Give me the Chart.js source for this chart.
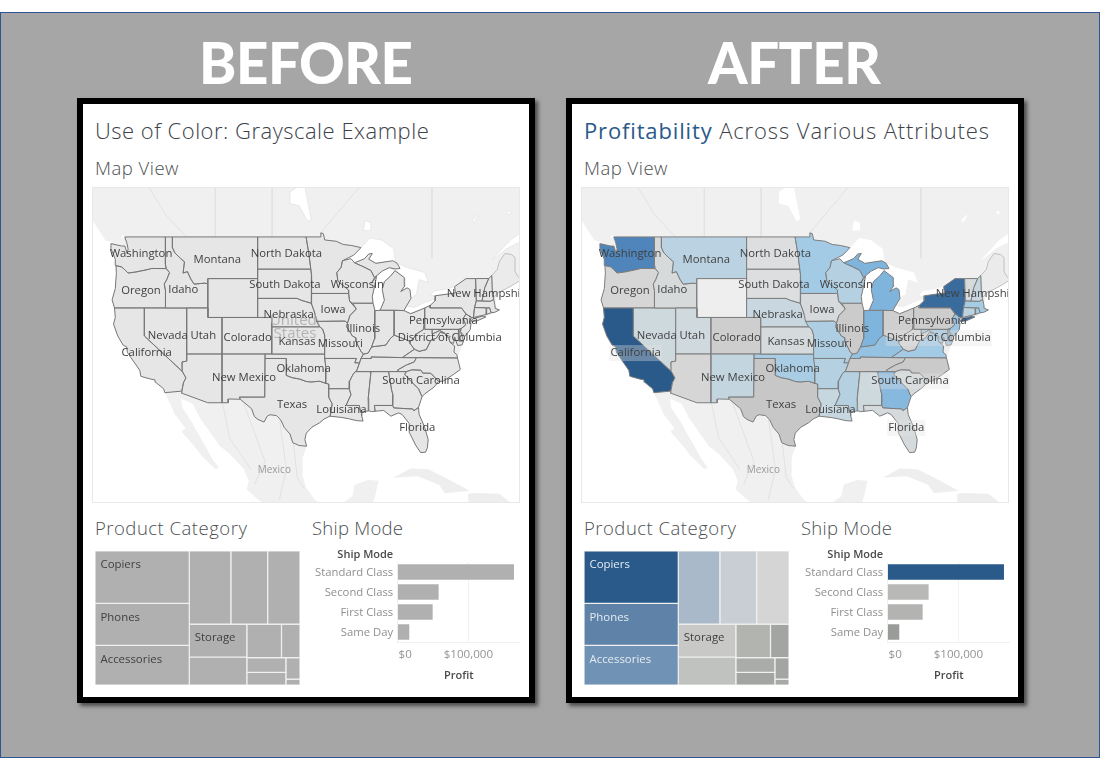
<!DOCTYPE html>
<html>
<head>
<meta charset="utf-8">
<script src="https://cdn.jsdelivr.net/npm/chart.js@4"></script>
<style>
  html, body { margin: 0; padding: 0; background: #fff; }
  body { width: 1101px; height: 759px; position: relative; overflow: hidden; font-family: "Open Sans", sans-serif; }
  #backdrop { position: absolute; left: 0; top: 12px; width: 1098px; height: 744px; background: #a6a6a6; border: 1.5px solid #2f5597; }
  .headline { position: absolute; top: 24px; color: #fff; font: 900 56.4px Lato, sans-serif; line-height: 76px; letter-spacing: -.45px; }
  .frame { position: absolute; top: 98px; width: 446px; height: 593px; background: #fff; border: 6px solid #000; box-shadow: 3px 3px 4px rgba(0,0,0,.55); }
  .txt { position: absolute; white-space: nowrap; color: #555; }
  .title { top: 115px; font-size: 22px; line-height: 30px; color: #3c4248; font-weight: 300; }
  .sub { font-size: 18.5px; line-height: 24px; color: #4c4f52; letter-spacing: .5px; font-weight: 300; }
  canvas { position: absolute; }
</style>
</head>
<body>
<div id="backdrop"></div>
<div class="headline" style="left:199px">BEFORE</div>
<div class="headline" style="left:708px">AFTER</div>
<div class="frame" style="left:77px"></div>
<div class="frame" style="left:566px"></div>
<script>
// ---- ship mode bars
const shipModes = ['Standard Class', 'Second Class', 'First Class', 'Same Day'];
const shipProfit = [164000, 57400, 49000, 15900];
const shipTicks = [0, 100000];
const shipColorsAfter = ['#2a5a8a', '#b8b9b7', '#b3b4b2', '#9a9c9a'];

// ---- treemap: sub-category profit, nesting
const subCategories = ['Copiers', 'Phones', 'Accessories', 'Paper', 'Binders', 'Chairs', 'Storage', 'Appliances', 'Furnishings', 'Envelopes', 'Art', 'Labels', 'Machines', 'Fasteners'];
const subProfit = [55600, 44500, 41900, 34100, 30200, 26600, 21300, 18100, 13100, 7000, 6500, 5500, 3400, 950];
const subColorsAfter = ['#2a5a8a', '#5f82a8', '#7092b4', '#a9b9c9', '#c8ced3', '#d5d5d5', '#c8c8c6', '#c0c2bf', '#b2b4b0', '#a2a5a1', '#a9aca8', '#a2a5a1', '#a2a5a1', '#a6a9a5'];
const subLabelled = ['Copiers', 'Phones', 'Accessories', 'Storage'];
const treeLayout = ['h', ['v', 0, 1, 2], ['v', ['h', 3, 4, 5], ['h', ['v', 6, 7], ['v', ['h', 8, 9], ['h', ['v', 10, 11], ['v', 12, 13]]]]]];

// ---- state outlines, [lon, lat]
const WA = [[-122.76,49],[-117.03,49],[-117.04,46.42],[-116.92,45.99],[-118.98,46],[-119.3,45.93],[-121.2,45.65],[-122.3,45.55],[-122.8,45.9],[-123.2,46.15],[-124,46.27],[-124.1,46.9],[-124.7,47.9],[-124.72,48.38],[-123.2,48.15],[-122.75,48.15],[-122.4,47.4],[-122.3,47.9],[-122.5,48.5]];
const OR = [[-124,46.27],[-123.2,46.15],[-122.8,45.9],[-122.3,45.55],[-121.2,45.65],[-119.3,45.93],[-118.98,46],[-116.92,45.99],[-116.46,45.6],[-116.85,44.9],[-117.2,44.45],[-117.03,43.8],[-117.03,42],[-124.21,42],[-124.55,42.85],[-124.1,44],[-123.95,45.5]];
const CA = [[-124.21,42],[-120,42],[-120,39],[-114.63,35],[-114.15,34.27],[-114.5,33.7],[-114.72,32.72],[-117.12,32.53],[-117.3,33],[-118.4,33.75],[-118.5,34.03],[-119.2,34.15],[-120.5,34.45],[-120.65,35.15],[-121.9,36.6],[-122.4,37.2],[-122.5,37.8],[-123,38],[-123.75,39],[-124.35,40.3],[-124.1,41]];
const NV = [[-120,42],[-114.04,42],[-114.04,36.2],[-114.7,36.1],[-114.63,35],[-120,39]];
const ID = [[-117.03,49],[-116.05,49],[-116.05,48],[-115.7,47.5],[-114.95,47],[-114.35,46.65],[-114.55,45.55],[-113.95,45.7],[-113.45,44.95],[-113,44.45],[-111.5,44.55],[-111.05,44.48],[-111.05,42],[-117.03,42],[-117.03,43.8],[-117.2,44.45],[-116.85,44.9],[-116.46,45.6],[-116.92,45.99],[-117.04,46.42]];
const MT = [[-116.05,49],[-104.05,49],[-104.05,45],[-111.05,45],[-111.05,44.48],[-111.5,44.55],[-113,44.45],[-113.45,44.95],[-113.95,45.7],[-114.55,45.55],[-114.35,46.65],[-114.95,47],[-115.7,47.5],[-116.05,48]];
const WY = [[-111.05,45],[-104.05,45],[-104.05,41],[-111.05,41]];
const UT = [[-114.04,42],[-111.05,42],[-111.05,41],[-109.05,41],[-109.05,37],[-114.04,37]];
const CO = [[-109.05,41],[-102.05,41],[-102.05,37],[-109.05,37]];
const AZ = [[-114.04,37],[-109.05,37],[-109.05,31.33],[-111.07,31.33],[-114.81,32.5],[-114.72,32.72],[-114.5,33.7],[-114.15,34.27],[-114.63,35],[-114.7,36.1],[-114.04,36.2]];
const NM = [[-109.05,37],[-103,37],[-103.05,32],[-106.62,32],[-106.5,31.75],[-108.2,31.78],[-108.2,31.33],[-109.05,31.33]];
const TX = [[-103,36.5],[-100,36.5],[-100,34.56],[-99.2,34.3],[-98.1,34.13],[-97.2,33.85],[-96.5,33.8],[-95.3,33.88],[-94.48,33.64],[-94.04,33.55],[-94.04,33],[-94.04,31.99],[-93.55,31.2],[-93.7,30.3],[-93.85,29.7],[-94.7,29.35],[-95.3,28.9],[-96.4,28.35],[-97.2,27.6],[-97.4,26.8],[-97.15,25.96],[-98.2,26.05],[-99.1,26.4],[-99.5,27.5],[-100.3,28.3],[-100.8,29.25],[-101.4,29.77],[-102.3,29.88],[-102.7,29.7],[-103.15,28.98],[-104,29.3],[-104.5,29.65],[-104.9,30.6],[-106.5,31.75],[-106.62,32],[-103.05,32]];
const OK = [[-103,37],[-94.62,37],[-94.43,35.4],[-94.48,33.64],[-95.3,33.88],[-96.5,33.8],[-97.2,33.85],[-98.1,34.13],[-99.2,34.3],[-100,34.56],[-100,36.5],[-103,36.5]];
const KS = [[-102.05,40],[-95.31,40],[-94.9,39.75],[-94.61,39.1],[-94.62,37],[-102.05,37]];
const NE = [[-104.05,43],[-98.5,43],[-97.9,42.8],[-96.5,42.5],[-96.1,41.7],[-95.9,41.2],[-95.31,40],[-102.05,40],[-102.05,41],[-104.05,41]];
const SD = [[-104.05,45.94],[-96.56,45.94],[-96.45,45.3],[-96.45,43.5],[-96.5,42.5],[-97.9,42.8],[-98.5,43],[-104.05,43]];
const ND = [[-104.05,49],[-97.23,49],[-96.85,47.5],[-96.56,45.94],[-104.05,45.94]];
const MN = [[-97.23,49],[-95.15,49],[-95.15,49.38],[-94.8,49.3],[-94.6,48.72],[-93,48.6],[-92,48.3],[-90.8,48.2],[-89.5,48],[-90.5,47.3],[-92.1,46.75],[-92.3,46.1],[-92.9,45.6],[-92.75,44.75],[-91.25,43.85],[-91.22,43.5],[-96.45,43.5],[-96.45,45.3],[-96.56,45.94],[-96.85,47.5]];
const IA = [[-96.45,43.5],[-91.22,43.5],[-91.1,42.7],[-90.15,41.9],[-91.05,41.2],[-91.4,40.38],[-91.73,40.61],[-95.77,40.58],[-95.9,41.2],[-96.1,41.7],[-96.5,42.5]];
const MO = [[-95.77,40.58],[-91.73,40.61],[-91.4,40.38],[-91.5,40],[-90.7,39],[-90.2,38.8],[-90.2,38.4],[-89.5,37.3],[-89.15,37],[-89.5,36.5],[-89.7,36],[-90.37,36],[-90.15,36.5],[-94.62,36.5],[-94.62,37],[-94.61,39.1],[-94.9,39.75],[-95.31,40]];
const AR = [[-94.62,36.5],[-90.15,36.5],[-90.37,36],[-89.7,36],[-90.1,35.1],[-90.6,34.7],[-91.1,33.9],[-91.15,33],[-94.04,33],[-94.04,33.55],[-94.48,33.64],[-94.43,35.4]];
const LA = [[-94.04,33],[-91.15,33],[-90.9,32.3],[-91.6,31],[-89.73,31],[-89.55,30.2],[-89.4,30.05],[-89.4,29.75],[-89.2,29.1],[-90.1,29.15],[-91.3,29.4],[-92.3,29.55],[-93.85,29.7],[-93.7,30.3],[-93.55,31.2],[-94.04,31.99]];
const MS = [[-91.15,33],[-91.1,33.9],[-90.6,34.7],[-90.3,35],[-88.2,35],[-88.1,34.9],[-88.47,31.9],[-88.4,30.35],[-89.55,30.2],[-89.73,31],[-91.6,31],[-90.9,32.3]];
const AL = [[-88.2,35],[-85.6,35],[-85.18,32.85],[-85,32.3],[-85.05,31],[-87.6,31],[-87.5,30.3],[-88,30.25],[-88.4,30.35],[-88.47,31.9],[-88.1,34.9]];
const TN = [[-89.7,36],[-89.5,36.5],[-88.05,36.5],[-88.05,36.68],[-83.68,36.6],[-81.68,36.59],[-82,36.1],[-83.1,35.75],[-84.3,35.2],[-84.32,35],[-85.6,35],[-88.2,35],[-90.3,35],[-90.1,35.1]];
const KY = [[-89.15,37],[-89.5,36.5],[-88.05,36.5],[-88.05,36.68],[-83.68,36.6],[-81.97,37.54],[-82.6,38.2],[-82.6,38.42],[-83.5,38.7],[-84.82,39.1],[-85.4,38.7],[-86,38],[-87,37.9],[-88,37.8],[-88.5,37.1]];
const IL = [[-90.65,42.5],[-87.8,42.5],[-87.53,41.72],[-87.53,39.35],[-87.6,38.7],[-88,37.8],[-88.5,37.1],[-89.15,37],[-89.5,37.3],[-90.2,38.4],[-90.2,38.8],[-90.7,39],[-91.5,40],[-91.4,40.38],[-91.05,41.2],[-90.15,41.9]];
const IN = [[-87.53,41.72],[-86.8,41.76],[-84.8,41.76],[-84.82,39.1],[-85.4,38.7],[-86,38],[-87,37.9],[-88,37.8],[-87.6,38.7],[-87.53,39.35]];
const OH = [[-84.8,41.76],[-83.45,41.73],[-82.5,41.4],[-81,41.85],[-80.52,42],[-80.52,40.64],[-80.7,39.7],[-81.7,39.2],[-82.2,38.6],[-82.6,38.42],[-83.5,38.7],[-84.82,39.1]];
const MI_LOWER = [[-86.8,41.76],[-84.8,41.76],[-83.45,41.73],[-83.1,42.2],[-82.45,43],[-82.6,43.9],[-83,44.07],[-83.9,43.7],[-83.3,44.3],[-83.4,45.1],[-84.7,45.78],[-85.4,45.2],[-86.2,44.7],[-86.5,43.9],[-86.2,42.8]];
const MI_UPPER = [[-90.4,46.55],[-89,46.95],[-88.4,47.4],[-87.9,47.45],[-88.4,46.9],[-87.4,46.5],[-86,46.65],[-85,46.75],[-84.4,46.5],[-84,46],[-84.7,45.95],[-85.5,46.08],[-86.5,45.75],[-87.6,45.1],[-88.1,45.8],[-89.1,46.15]];
const WI = [[-92.1,46.75],[-90.9,46.95],[-90.4,46.55],[-89.1,46.15],[-88.1,45.8],[-87.6,45.1],[-88,44.55],[-87.3,45.25],[-87.5,44.5],[-87.9,43.2],[-87.8,42.5],[-90.65,42.5],[-91.1,42.7],[-91.22,43.5],[-91.25,43.85],[-92.75,44.75],[-92.9,45.6],[-92.3,46.1]];
const NY = [[-79.76,42],[-75.35,42],[-74.7,41.36],[-73.92,41],[-73.65,41],[-73.5,42.05],[-73.25,42.75],[-73.35,45],[-74.7,45],[-76.3,44.2],[-76.2,43.55],[-79,43.27],[-79.05,42.75],[-79.76,42.27]];
const NY_LONG_ISLAND = [[-74.05,40.6],[-73.7,40.88],[-72.3,41.15],[-71.9,41.05],[-73.2,40.62]];
const PA = [[-80.52,42],[-79.76,42.27],[-79.76,42],[-75.35,42],[-74.7,41.36],[-75.1,40.9],[-74.75,40.2],[-75.4,39.8],[-75.79,39.72],[-80.52,39.72]];
const NJ = [[-74.7,41.36],[-73.92,41],[-74.25,40.5],[-74,40.4],[-74.1,39.7],[-74.9,38.95],[-75.5,39.5],[-75.4,39.8],[-74.75,40.2],[-75.1,40.9]];
const DE = [[-75.79,39.72],[-75.4,39.8],[-75.5,39.5],[-75.05,38.45],[-75.7,38.46]];
const MD = [[-79.48,39.72],[-75.79,39.72],[-75.7,38.46],[-75.05,38.45],[-75.25,38.03],[-75.9,37.95],[-76.3,38.9],[-76.45,38.2],[-76.95,38.3],[-77.1,38.7],[-77.7,39.3],[-78.4,39.6],[-79.48,39.2]];
const DC = [[-77.12,38.93],[-77.04,38.99],[-76.91,38.89],[-77.04,38.79]];
const VA = [[-83.68,36.6],[-81.68,36.59],[-75.9,36.55],[-76,36.95],[-76.4,37.2],[-76.3,37.9],[-76.95,38.3],[-77.1,38.7],[-77.7,39.3],[-78.35,39.4],[-78.9,38.75],[-79.65,38.55],[-80.3,37.5],[-81.3,37.3],[-81.97,37.54]];
const WV = [[-82.6,38.42],[-82.6,38.2],[-81.97,37.54],[-81.3,37.3],[-80.3,37.5],[-79.65,38.55],[-78.9,38.75],[-78.35,39.4],[-77.7,39.3],[-78.4,39.6],[-79.48,39.2],[-79.48,39.72],[-80.52,39.72],[-80.52,40.64],[-80.7,39.7],[-81.7,39.2],[-82.2,38.6]];
const NC = [[-84.32,35],[-84.3,35.2],[-83.1,35.75],[-82,36.1],[-81.68,36.59],[-75.9,36.55],[-75.5,35.25],[-76.5,34.65],[-77.9,33.9],[-78.55,33.86],[-79.67,34.8],[-80.8,34.82],[-81.05,35.15],[-82.3,35.2],[-83.1,35]];
const SC = [[-83.1,35],[-82.3,35.2],[-81.05,35.15],[-80.8,34.82],[-79.67,34.8],[-78.55,33.86],[-79.2,33.2],[-80.5,32.4],[-80.9,32.05],[-81.4,33],[-82.5,33.9],[-83.35,34.7]];
const GA = [[-85.6,35],[-84.32,35],[-83.1,35],[-83.35,34.7],[-82.5,33.9],[-81.4,33],[-80.9,32.05],[-81.4,30.75],[-82.05,30.36],[-82.2,30.57],[-84.86,30.7],[-85.05,31],[-85,32.3],[-85.18,32.85]];
const FL = [[-87.6,31],[-85.05,31],[-84.86,30.7],[-82.2,30.57],[-82.05,30.36],[-81.4,30.75],[-81.3,29.9],[-80.55,28.4],[-80.03,26.8],[-80.15,25.75],[-80.4,25.2],[-81.1,25.15],[-81.8,26.1],[-82.7,27.7],[-82.7,28.8],[-83.7,29.9],[-84.2,30.1],[-85.3,29.7],[-86.3,30.4],[-87.5,30.3]];
const CT = [[-73.5,42.05],[-71.8,42.02],[-71.85,41.32],[-73.65,41]];
const RI = [[-71.8,42.02],[-71.38,42.02],[-71.15,41.5],[-71.85,41.32]];
const MA = [[-73.5,42.05],[-73.25,42.75],[-71.3,42.7],[-70.8,42.88],[-70.65,42.4],[-70.6,41.95],[-70,41.8],[-70.65,41.55],[-71.15,41.5],[-71.38,42.02],[-71.8,42.02]];
const VT = [[-73.25,42.75],[-72.46,42.73],[-72.05,44.1],[-71.5,45.01],[-73.35,45]];
const NH = [[-72.46,42.73],[-71.3,42.7],[-70.8,42.88],[-70.98,43.4],[-71.08,45.3],[-71.5,45.01],[-72.05,44.1]];
// Maine has no mark in the reference, only the pale base map outline
const ME = [[-70.8,43.07],[-70.2,43.6],[-69,44],[-68,44.4],[-67,44.85],[-67.45,45.3],[-67.8,45.7],[-67.8,47.07],[-68.3,47.35],[-69.2,47.45],[-70,46.7],[-70.3,45.9],[-71.08,45.3],[-70.98,43.4]];

const stateRings = [[WA],[OR],[CA],[NV],[ID],[MT],[WY],[UT],[CO],[AZ],[NM],[TX],[OK],[KS],[NE],[SD],[ND],[MN],[IA],[MO],[AR],[LA],[MS],[AL],[TN],[KY],[IL],[IN],[OH],[MI_LOWER,MI_UPPER],[WI],[NY,NY_LONG_ISLAND],[PA],[NJ],[DE],[MD],[DC],[VA],[WV],[NC],[SC],[GA],[FL],[CT],[RI],[MA],[VT],[NH]];
// estimated from the fill shade of each state, same order as stateRings
const stateProfit = [33400,-1200,76400,1500,600,3500,0,1400,-14000,-1200,2600,-24000,8000,800,2000,400,400,10000,700,6500,4500,2200,4000,1500,-20000,13000,-18000,18000,-12000,18000,4500,58000,-15000,12000,12000,11000,1100,10000,-1000,-20000,800,16300,800,3500,7300,9000,800,2200];

const mapLabels = ['Washington','Montana','North Dakota','Oregon','Idaho','South Dakota','Wisconsin','New Hampshire','Nebraska','Iowa','Pennsylvania','Nevada','Utah','Colorado','Illinois','Kansas','Missouri','District of Columbia','California','Oklahoma','New Mexico','South Carolina','Texas','Louisiana','Florida'];
const mapLabelLon = [-120.48,-109.73,-100.01,-120.48,-114.52,-100.2,-90.01,-71.45,-99.68,-93.44,-77.9,-116.72,-111.7,-105.46,-89.17,-98.51,-92.41,-77,-119.68,-97.57,-105.97,-81.04,-99.21,-92.26,-81.56];
const mapLabelLat = [47.47,46.95,47.47,43.91,44.01,44.45,44.45,43.57,41.43,41.96,40.8,39.18,39.18,38.92,39.9,38.45,38.23,38.88,37.22,35.44,34.41,34,31.16,30.64,28.35];
const boxedLabels = ['District of Columbia','California','South Carolina','Florida'];

// ---- basemap
const northAmerica = [[-131,56],[-131,51.2],[-127.4,50.6],[-125.5,48.7],[-123.5,48.3],[-123.1,49.2],[-122.76,49],[-124.72,48.38],[-124.7,47.9],[-124.1,46.9],[-124,46.27],[-123.95,45.5],[-124.1,44],[-124.55,42.85],[-124.21,42],[-124.1,41],[-124.35,40.3],[-123.75,39],[-123,38],[-122.5,37.8],[-122.4,37.2],[-121.9,36.6],[-120.65,35.15],[-120.5,34.45],[-119.2,34.15],[-118.5,34.03],[-118.4,33.75],[-117.3,33],[-117.12,32.53],[-116,30.5],[-115.8,30],[-114.2,28.2],[-114.8,27.8],[-113,26],[-112,24.8],[-110,23],[-109.5,23.2],[-110.4,24.3],[-111.3,25.8],[-112.6,27.8],[-113.2,28.8],[-114.7,30.8],[-114.8,31.8],[-113.2,31.2],[-112.2,29.5],[-110.9,27.9],[-109.4,26],[-108,25],[-106,23],[-105.3,21.5],[-105.6,20.4],[-104,19],[-101.5,17.6],[-99,16.5],[-96,15.7],[-94,16.1],[-92,14.5],[-88,13],[-86,12],[-83.6,12],[-83.3,15],[-86,16],[-88.8,15.8],[-88.2,17.5],[-87.5,19.5],[-87,21.5],[-88.5,21.6],[-90.4,21],[-90.7,19.5],[-92,18.6],[-94.5,18.1],[-96,19],[-97.2,20.6],[-97.8,22.4],[-97.7,24.5],[-97.15,25.96],[-97.4,26.8],[-97.2,27.6],[-96.4,28.35],[-95.3,28.9],[-94.7,29.35],[-93.85,29.7],[-92.3,29.55],[-91.3,29.4],[-90.1,29.15],[-89.2,29.1],[-89.4,30.05],[-88.4,30.35],[-87.5,30.3],[-86.3,30.4],[-85.3,29.7],[-84.2,30.1],[-83.7,29.9],[-82.7,28.8],[-82.7,27.7],[-81.8,26.1],[-81.1,25.15],[-80.4,25.2],[-80.15,25.75],[-80.03,26.8],[-80.55,28.4],[-81.3,29.9],[-81.4,30.75],[-80.9,32.05],[-79.2,33.2],[-77.9,33.9],[-76.5,34.65],[-75.5,35.25],[-75.9,36.55],[-75.05,38.45],[-74.1,39.7],[-74,40.4],[-72,41.05],[-70,41.7],[-70.65,42.4],[-70.2,43.6],[-69,44],[-67,44.85],[-66,45.2],[-64,45.5],[-60,46],[-60,56]];
const cuba = [[-84.9,21.9],[-82.5,23.1],[-80,23],[-77,21.6],[-74.2,20.2],[-77.7,19.85],[-78.5,21],[-81.5,22.1],[-83.5,22]];
const hispaniola = [[-74.4,19.8],[-73.5,19.9],[-70,19.8],[-68.4,18.6],[-71.5,17.8],[-74.4,18.4]];
const lakeSuperior = [[-92.1,46.75],[-89.5,48],[-88.2,48.9],[-86.5,48.7],[-84.9,47.9],[-84.6,46.5],[-86,46.65],[-87.4,46.5],[-88.4,46.9],[-87.9,47.45],[-88.4,47.4],[-89,46.95],[-90.4,46.55]];
const lakeMichigan = [[-87.53,41.72],[-86.8,41.76],[-86.2,42.8],[-86.5,43.9],[-86.2,44.7],[-85.4,45.2],[-84.8,45.8],[-85.5,46.08],[-86.5,45.75],[-87.6,45.1],[-88,44.55],[-87.5,44.5],[-87.9,43.2],[-87.8,42.5]];
const lakeHuron = [[-84.7,45.9],[-83.4,45.1],[-83.3,44.3],[-83.9,43.7],[-83,44.07],[-82.45,43],[-81.7,43.4],[-81.3,44.9],[-80,44.6],[-80.5,45.6],[-83,46.1],[-84.4,46.5]];
const lakeErie = [[-83.45,41.73],[-82.5,41.4],[-81,41.85],[-79.76,42.27],[-78.9,42.75],[-79.2,42.9],[-80.5,42.6],[-82,42.05],[-83.1,42.2]];
const lakeOntario = [[-79.8,43.3],[-79,43.27],[-76.2,43.55],[-76.3,44.2],[-77.5,43.95],[-79.2,43.75]];
const lakeWinnipeg = [[-99.5,53],[-97.5,53.7],[-96.5,50.6],[-97,50.4],[-98.2,51.8],[-99.5,52]];
const lakeNipigon = [[-89.2,49.6],[-88.2,49.6],[-88.1,50.3],[-88.9,50.5]];
const lakeMistassini = [[-73.8,50.5],[-73.1,51],[-73,50.9],[-73.6,50.3]];
const lakeManicouagan = [[-68.9,51.2],[-68.6,51.4],[-68.4,51.2],[-68.7,51]];
const stLawrence = [[-60,50],[-66.5,49.6],[-68.5,48.7],[-70,47.6],[-71,46.85],[-70.5,47.05],[-69,47.9],[-65,49.2],[-64.2,48.8],[-60,46.5]];
const waterBodies = [lakeSuperior, lakeMichigan, lakeHuron, lakeErie, lakeOntario, lakeWinnipeg, lakeNipigon, lakeMistassini, lakeManicouagan, stLawrence];
const faintBorders = [[[-120,54],[-117,51],[-114.05,49]],[[-110,54],[-110,49]],[[-102,54],[-102,49]],[[-95.15,49.4],[-89,53.9]],[[-79.5,54],[-79.5,47]],[[-71,45.3],[-68.2,47.4]],[[-106,31.2],[-103,24],[-104.5,21]],[[-101,29.5],[-100,23],[-101,19]],[[-99,26.3],[-98.5,22],[-97.5,20.5]],[[-109,31.3],[-108,27],[-105,23]]];

// Web Mercator, same as the Tableau base map
function merc(lat) {
    return Math.log(Math.tan(Math.PI / 4 + lat * Math.PI / 360)) * 180 / Math.PI;
}

const profitStops = [-26000, -1000, 0, 500, 2000, 4000, 10000, 18000, 33000, 75000];
const profitStopColors = ['#c6c6c6', '#d6d6d6', '#eeeeee', '#d8dadb', '#c9d8e0', '#b5d0e1', '#a3cbe5', '#7fb4dd', '#4f85ba', '#2a5a8a'];

function profitColor(v) {
    let i = 0;
    while (i < profitStops.length - 2 && v > profitStops[i + 1]) i++;
    const t = Math.min(1, Math.max(0, (v - profitStops[i]) / (profitStops[i + 1] - profitStops[i])));
    const a = profitStopColors[i], b = profitStopColors[i + 1];
    const mix = (p) => Math.round(parseInt(a.substr(p, 2), 16) * (1 - t) + parseInt(b.substr(p, 2), 16) * t);
    return 'rgb(' + mix(1) + ',' + mix(3) + ',' + mix(5) + ')';
}

function ringDataset(ring, fillColor, lineColor, lineWidth) {
    const closed = fillColor ? ring.concat([ring[0]]) : ring;
    return {
        data: closed.map(p => ({ x: p[0], y: merc(p[1]) })),
        showLine: true,
        fill: fillColor ? 'shape' : false,
        backgroundColor: fillColor || 'transparent',
        borderColor: lineColor,
        borderWidth: lineWidth,
        pointRadius: 0,
        tension: 0
    };
}

function addCanvas(left, top, width, height) {
    const c = document.createElement('canvas');
    c.width = width;
    c.height = height;
    c.style.left = left + 'px';
    c.style.top = top + 'px';
    c.style.width = width + 'px';
    c.style.height = height + 'px';
    document.body.appendChild(c);
    return c;
}

function addText(cls, left, top, html, spacing) {
    const d = document.createElement('div');
    d.className = 'txt ' + cls;
    d.style.left = left + 'px';
    if (top !== null) d.style.top = top + 'px';
    if (spacing !== undefined) d.style.letterSpacing = spacing + 'px';
    d.innerHTML = html;
    document.body.appendChild(d);
}

function initMapChart(dx, isAfter) {
    const canvas = addCanvas(581 + dx, 187, 428, 316);
    canvas.style.outline = '1px solid #e8e8e8';
    canvas.style.outlineOffset = '-1px';

    let sets = [];
    sets.push(ringDataset(northAmerica, '#f0f0f0', 'transparent', 0));
    sets.push(ringDataset(cuba, '#eeeeee', 'transparent', 0));
    sets.push(ringDataset(hispaniola, '#eeeeee', 'transparent', 0));
    faintBorders.forEach(b => sets.push(ringDataset(b, null, '#e2e2e2', 1)));
    waterBodies.forEach(w => sets.push(ringDataset(w, '#ffffff', '#dddddd', isAfter ? 0 : 0.6)));
    sets.push(ringDataset(ME, '#ebebeb', '#b4b4b4', 0.8));
    stateRings.forEach((rings, i) => {
        const fillColor = isAfter ? profitColor(stateProfit[i]) : 'rgba(222,222,222,0.55)';
        rings.forEach(r => sets.push(ringDataset(r, fillColor, isAfter ? '#7d7d7d' : '#767676', 1)));
    });
    sets = sets.reverse(); // first dataset is painted last

    const labelPlugin = {
        id: 'mapLabels',
        afterDatasetsDraw(chart) {
            const g = chart.ctx, sx = chart.scales.x, sy = chart.scales.y;
            g.save();
            g.beginPath();
            g.rect(0, 0, chart.width, chart.height);
            g.clip();
            g.textAlign = 'center';
            g.textBaseline = 'middle';
            g.font = '10px "Open Sans"';
            g.fillStyle = '#9a9a9a';
            g.fillText('Mexico', sx.getPixelForValue(-101.7), sy.getPixelForValue(merc(22.95)));
            if (!isAfter) {
                g.font = '15px "Open Sans"';
                g.fillStyle = '#b4b4b4';
                g.fillText('United', sx.getPixelForValue(-99.02), sy.getPixelForValue(merc(40.7)));
                g.fillText('States', sx.getPixelForValue(-98.79), sy.getPixelForValue(merc(39.3)));
            }
            g.font = '11.3px "Open Sans"';
            mapLabels.forEach((name, i) => {
                const x = sx.getPixelForValue(mapLabelLon[i]);
                const y = sy.getPixelForValue(merc(mapLabelLat[i])) + 1;
                if (isAfter && boxedLabels.includes(name)) {
                    const w = g.measureText(name).width + 2;
                    g.fillStyle = 'rgba(225,225,225,0.35)';
                    g.fillRect(x - w / 2, y - 8, w, 16);
                }
                g.fillStyle = '#3f3f3f';
                g.fillText(name, x, y);
            });
            g.restore();
        }
    };

    new Chart(canvas, {
        type: 'scatter',
        data: { datasets: sets },
        plugins: [labelPlugin],
        options: {
            responsive: false,
            animation: false,
            events: [],
            plugins: { legend: { display: false }, tooltip: { enabled: false } },
            scales: {
                x: { display: false, min: -127.38, max: -67.1 },
                y: { display: false, min: 18.9, max: 63.4 }
            }
        }
    });
}

// slice and dice over the nesting in treeLayout
function layoutTree(node, box, out) {
    if (typeof node === 'number') {
        out.push({ index: node, x0: box.x0, x1: box.x1, y0: box.y0, y1: box.y1 });
        return;
    }
    const dir = node[0], kids = node.slice(1);
    const total = kids.reduce((s, k) => s + treeSum(k), 0);
    let pos = dir === 'h' ? box.x0 : box.y1;
    kids.forEach(k => {
        const share = treeSum(k) / total;
        if (dir === 'h') {
            const w = (box.x1 - box.x0) * share;
            layoutTree(k, { x0: pos, x1: pos + w, y0: box.y0, y1: box.y1 }, out);
            pos += w;
        } else {
            const h = (box.y1 - box.y0) * share;
            layoutTree(k, { x0: box.x0, x1: box.x1, y0: pos - h, y1: pos }, out);
            pos -= h;
        }
    });
}

function treeSum(node) {
    if (typeof node === 'number') return subProfit[node];
    return node.slice(1).reduce((s, k) => s + treeSum(k), 0);
}

function initTreemapChart(dx, isAfter) {
    const canvas = addCanvas(584 + dx, 551, 205, 134);
    const cells = [];
    layoutTree(treeLayout, { x0: 0, x1: 1, y0: 0, y1: 1 }, cells);

    const sets = cells.map(c => ({
        data: [{ x: c.x0, y: c.y0 }, { x: c.x1, y: c.y0 }, { x: c.x1, y: c.y1 }, { x: c.x0, y: c.y1 }, { x: c.x0, y: c.y0 }],
        showLine: true,
        fill: 'shape',
        backgroundColor: isAfter ? subColorsAfter[c.index] : '#b0b0b0',
        borderColor: '#f0f0f0',
        borderWidth: 1.2,
        pointRadius: 0,
        tension: 0
    }));

    const labelPlugin = {
        id: 'treeLabels',
        afterDatasetsDraw(chart) {
            const g = chart.ctx, sx = chart.scales.x, sy = chart.scales.y;
            g.save();
            g.font = '11.4px "Open Sans"';
            g.textBaseline = 'middle';
            cells.forEach(c => {
                const name = subCategories[c.index];
                if (!subLabelled.includes(name)) return;
                g.fillStyle = isAfter && name !== 'Storage' ? '#e4ebf2' : '#404040';
                g.fillText(name, sx.getPixelForValue(c.x0) + 5.5, sy.getPixelForValue(c.y1) + 14);
            });
            g.restore();
        }
    };

    new Chart(canvas, {
        type: 'scatter',
        data: { datasets: sets },
        plugins: [labelPlugin],
        options: {
            responsive: false,
            animation: false,
            events: [],
            plugins: { legend: { display: false }, tooltip: { enabled: false } },
            scales: {
                x: { display: false, min: 0, max: 1 },
                y: { display: false, min: 0, max: 1 }
            }
        }
    });
}

function initShipChart(dx, isAfter) {
    const canvas = addCanvas(790 + dx, 545, 220, 145);
    const headerPlugin = {
        id: 'shipHeader',
        afterDraw(chart) {
            const g = chart.ctx;
            g.save();
            g.font = '600 11px "Open Sans"';
            g.fillStyle = '#4a4a4a';
            g.textAlign = 'right';
            g.textBaseline = 'middle';
            g.fillText('Ship Mode', chart.scales.y.right - 4.5, 9.5);
            g.restore();
        }
    };

    new Chart(canvas, {
        type: 'bar',
        data: {
            labels: shipModes,
            datasets: [{
                data: shipProfit,
                backgroundColor: isAfter ? shipColorsAfter : '#b0b0b0',
                barThickness: 15,
                borderWidth: 0
            }]
        },
        plugins: [headerPlugin],
        options: {
            indexAxis: 'y',
            responsive: false,
            animation: false,
            events: [],
            layout: { padding: { top: 17 } },
            plugins: { legend: { display: false }, tooltip: { enabled: false } },
            scales: {
                x: {
                    min: 0,
                    max: 173000,
                    grid: { color: '#f1f1f1', drawTicks: false },
                    border: { color: '#f1f1f1' },
                    afterFit: (s) => { s.height = 48; },
                    afterBuildTicks: (s) => { s.ticks = shipTicks.map(v => ({ value: v })); },
                    ticks: {
                        padding: 5.5,
                        maxRotation: 0,
                        color: '#949494',
                        font: { family: 'Open Sans', size: 11.6 },
                        callback: (v) => v === 0 ? '     $0' : '$' + v.toLocaleString('en-US')
                    },
                    title: {
                        display: true,
                        text: 'Profit',
                        color: '#4a4a4a',
                        padding: { top: 0, bottom: 8 },
                        font: { family: 'Open Sans', size: 11, weight: '600' }
                    }
                },
                y: {
                    grid: { display: false, drawTicks: false },
                    border: { color: '#f1f1f1' },
                    afterFit: (s) => { s.width = 97.7; },
                    ticks: {
                        padding: 4.5,
                        labelOffset: 0.8,
                        color: '#8f8f8f',
                        font: { family: 'Open Sans', size: 11.3 }
                    }
                }
            }
        }
    });
}

function initDashboard(dx, isAfter) {
    if (isAfter) {
        addText('title', 584 + dx, null, '<span style="color:#2a5a8a;font-weight:500;letter-spacing:.85px">Profitability</span> Across Various Attributes', 0.9);
    } else {
        addText('title', 584 + dx, null, 'Use of Color: Grayscale Example', 0.5);
    }
    addText('sub', 584 + dx, 156, 'Map View');
    addText('sub', 584 + dx, 516, 'Product Category');
    addText('sub', 801 + dx, 516, 'Ship Mode', 0.25);
    initMapChart(dx, isAfter);
    initTreemapChart(dx, isAfter);
    initShipChart(isAfter ? dx : dx - 1, isAfter);
}

initDashboard(-489, false);
initDashboard(0, true);
</script>
</body>
</html>
